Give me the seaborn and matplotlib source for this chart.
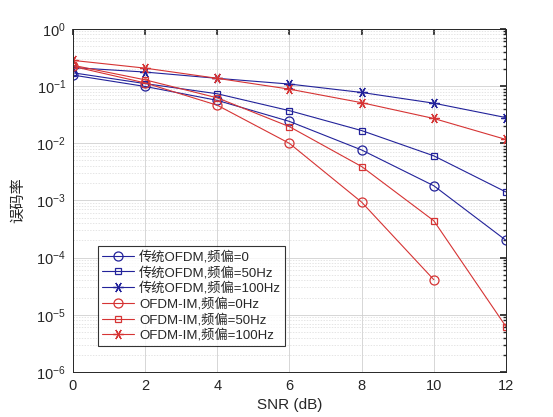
import matplotlib
matplotlib.use("Agg")
import matplotlib.pyplot as plt
import seaborn as sns
import numpy as np
import pandas as pd
from matplotlib.ticker import LogLocator, NullFormatter

snr = [0, 2, 4, 6, 8, 10, 12]
snr_im0 = [0, 2, 4, 6, 8, 10]

ofdm_0 = [0.155, 0.098, 0.056, 0.024, 0.0076, 0.0018, 2.0e-4]
ofdm_50 = [0.17, 0.11, 0.073, 0.037, 0.0166, 0.006, 0.0014]
ofdm_100 = [0.21, 0.175, 0.136, 0.108, 0.077, 0.050, 0.028]
im_0 = [0.22, 0.113, 0.046, 0.0099, 9.3e-4, 4.1e-5]
im_50 = [0.23, 0.128, 0.062, 0.0194, 0.0039, 4.4e-4, 6.2e-6]
im_100 = [0.28, 0.205, 0.136, 0.088, 0.051, 0.027, 0.0116]

labels = ["传统OFDM,频偏=0", "传统OFDM,频偏=50Hz", "传统OFDM,频偏=100Hz",
          "OFDM-IM,频偏=0Hz", "OFDM-IM,频偏=50Hz", "OFDM-IM,频偏=100Hz"]

sns.set_theme(style="white")
plt.rcParams['font.family'] = ['Liberation Sans', 'Noto Sans CJK SC', 'DejaVu Sans']
plt.rcParams['axes.unicode_minus'] = False
plt.rcParams['mathtext.fontset'] = 'custom'
plt.rcParams['mathtext.rm'] = 'Liberation Sans'
plt.rcParams['mathtext.it'] = 'Liberation Sans'

blue = "#22229a"
red = "#d63434"
star = (6, 2, 90)
series = [
    (snr, ofdm_0, blue, "o", labels[0]),
    (snr, ofdm_50, blue, "s", labels[1]),
    (snr, ofdm_100, blue, star, labels[2]),
    (snr_im0, im_0, red, "o", labels[3]),
    (snr, im_50, red, "s", labels[4]),
    (snr, im_100, red, star, labels[5]),
]

fig = plt.figure(figsize=(5.53, 4.17), dpi=100)
ax = fig.add_axes([0.132, 0.108, 0.783, 0.823])

for xs, ys, c, m, lab in series:
    df = pd.DataFrame({"x": xs, "y": ys})
    if m == "o":
        ms = 6.5
    elif m == "s":
        ms = 5.0
    else:
        ms = 7.5
    sns.lineplot(data=df, x="x", y="y", ax=ax, color=c, marker=m, lw=0.8,
                 markersize=ms, markerfacecolor="none",
                 markeredgecolor=c, markeredgewidth=0.9, label=lab)

ax.set_yscale("log")
ax.set_xlim(0, 12)
ax.set_ylim(1e-6, 1)
ax.set_xticks([0, 2, 4, 6, 8, 10, 12])
ax.yaxis.set_major_locator(LogLocator(base=10, numticks=10))
ax.yaxis.set_minor_locator(LogLocator(base=10, subs=np.arange(2, 10), numticks=20))
ax.yaxis.set_minor_formatter(NullFormatter())
ax.grid(True, which="major", color="#d0d0d0", lw=0.6)
ax.grid(True, which="minor", axis="y", color="#dadada", lw=0.5, ls=(0, (2, 2)))
ax.tick_params(which="both", direction="in", top=True, right=True, labelsize=10.5,
               colors="#262626", length=4, pad=5)
ax.tick_params(which="minor", length=2)
for s in ax.spines.values():
    s.set_color("#262626")
    s.set_linewidth(0.7)

ax.set_xlabel("SNR (dB)", fontsize=11, color="#262626", labelpad=4)
ax.set_ylabel("误码率", fontsize=11, color="#262626", labelpad=8)

leg = ax.legend(loc="lower left", bbox_to_anchor=(0.058, 0.076), fontsize=9.5,
                frameon=True, fancybox=False, edgecolor="black",
                borderpad=0.3, labelspacing=0.22, handlelength=2.4,
                handletextpad=0.4, borderaxespad=0)
leg.get_frame().set_linewidth(0.8)

fig.savefig("out.png", dpi=100)
